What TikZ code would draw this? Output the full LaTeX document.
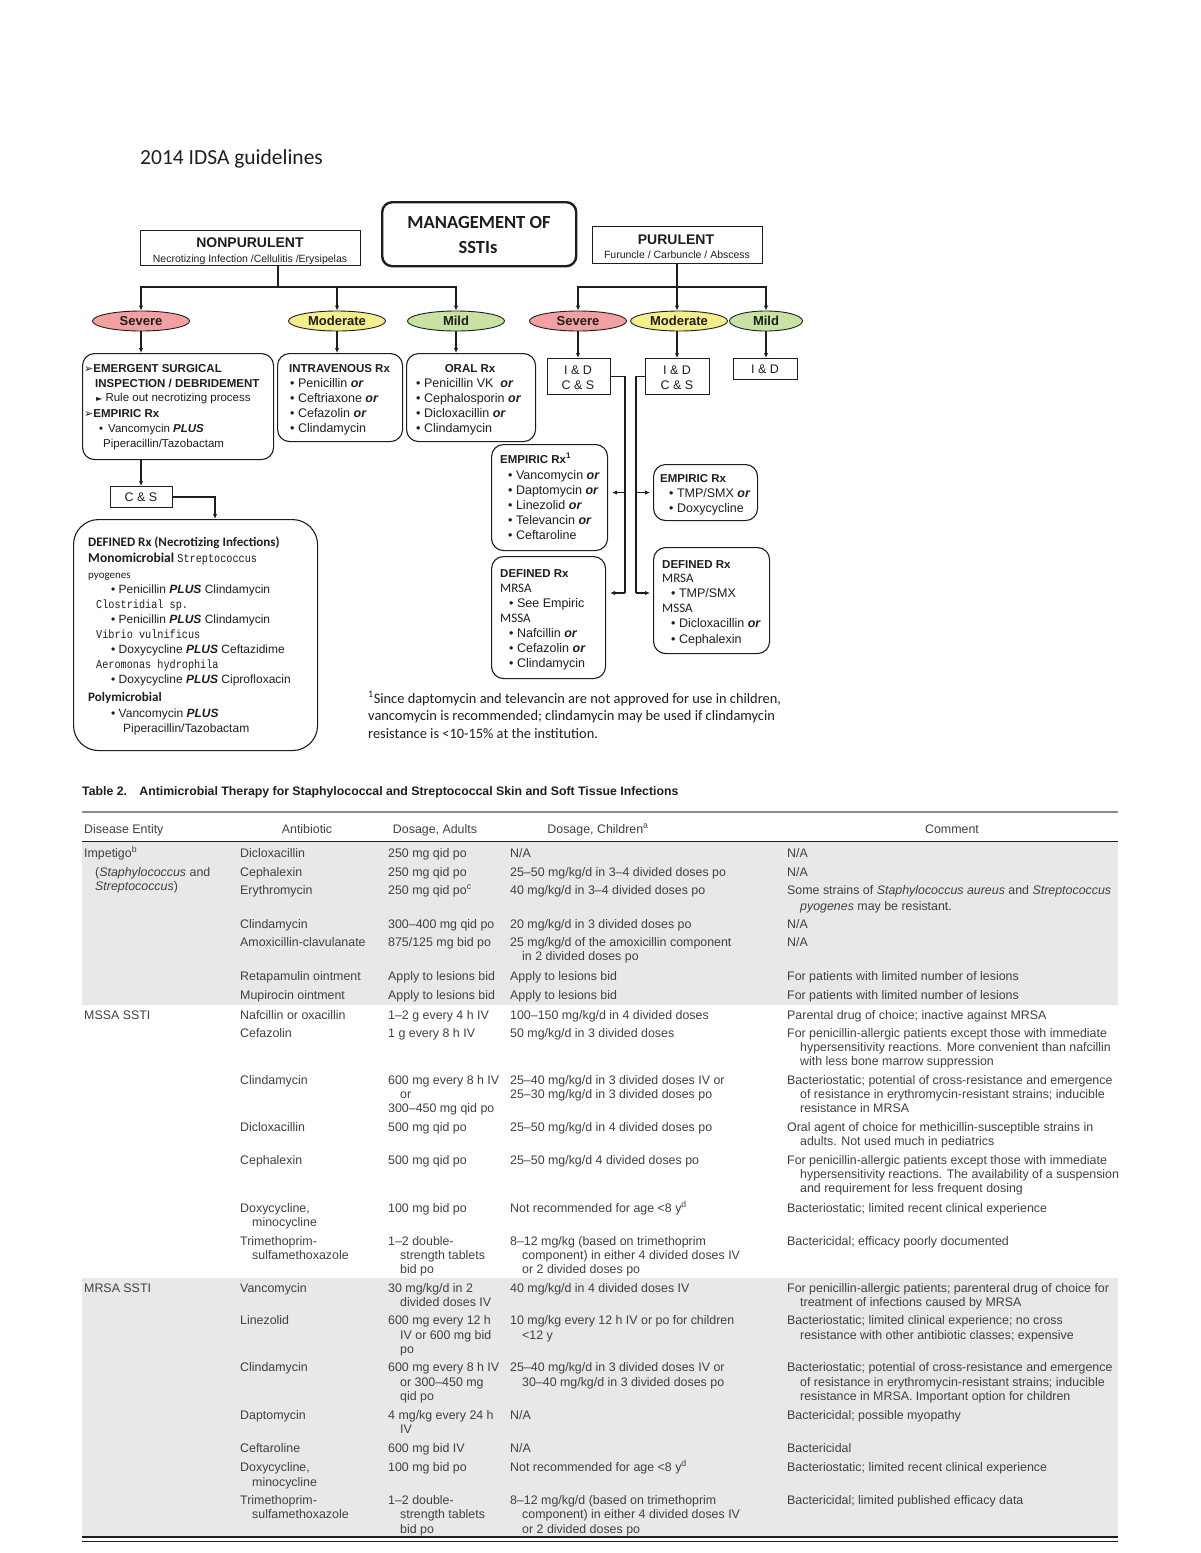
\documentclass[tikz,border=0pt]{standalone}
\usepackage{fontspec}
\setmainfont{Liberation Sans}
\newfontfamily\calfont{Carlito}
\newfontfamily\narrowmono[FakeStretch=0.85]{Liberation Mono}
\newfontfamily\dejavu{DejaVu Sans}
\usetikzlibrary{shapes.geometric,arrows.meta}
\definecolor{sevcol}{HTML}{F2A0A0}
\definecolor{modcol}{HTML}{F4EE8C}
\definecolor{mildcol}{HTML}{C8E2A4}
\definecolor{tabtxt}{HTML}{404040}
\definecolor{rowgray}{HTML}{E8E8E8}
\definecolor{rulecol}{HTML}{8C8C8C}
\definecolor{ink}{HTML}{1E1E1E}
\newcounter{tnode}
\newcommand\fsz[1]{\fontsize{#1}{#1}\selectfont}
\newcommand\Tx[3][]{\stepcounter{tnode}\node[txt,#1] (n\arabic{tnode}) at (#2) {#3};}
\newcommand\TL[2]{\Tx[tab]{#1}{#2}}
\newcommand\bior{{\bfseries\itshape or}}
\newcommand\PLUS{{\bfseries\itshape PLUS}}
\newcommand\arrowhd{{\dejavu\mdseries\fsz{11}➢}}
\tikzset{
  txt/.style={inner sep=0pt, anchor=base west, text=ink},
  fc/.style={font=\fsz{11.5}},
  fb/.style={font=\fsz{12}},
  fi/.style={font=\fsz{12.5}},
  fh/.style={font=\bfseries\fsz{11.5}},
  tab/.style={font=\fsz{12.4}, text=tabtxt},
  sbox/.style={draw=ink, line width=0.9pt, anchor=north west, inner sep=0pt},
  rbox/.style={draw=ink, line width=1.1pt, rounded corners=12pt, anchor=north west, inner sep=0pt},
  ell/.style={ellipse, draw=ink, line width=0.9pt, minimum width=97pt, minimum height=20pt, inner sep=0pt, font=\bfseries\fsz{13}, text=ink},
  ln/.style={draw=ink, line width=1.3pt},
  arr/.style={draw=ink, line width=1.3pt, -{Latex[length=5pt,width=4.5pt]}},
}
\begin{document}
\begin{tikzpicture}[x=1pt,y=-1pt]
\useasboundingbox (0,0) rectangle (1200,1553);
\fill[white] (0,0) rectangle (1200,1553);

\Tx[font=\calfont\fsz{21.5}]{140,164}{2014 IDSA guidelines}

% ---------- top boxes
\node[sbox, minimum width=220pt, minimum height=35pt] (np) at (140,230) {};
\Tx[anchor=base, font=\bfseries\fsz{14}]{250,247}{NONPURULENT}
\Tx[anchor=base, font=\fsz{10.5}]{250,262}{Necrotizing Infection /Cellulitis /Erysipelas}

\node[draw=ink, line width=2.4pt, rounded corners=10pt, anchor=north west, minimum width=194pt, minimum height=64pt] (mg) at (381,201) {};
\Tx[anchor=base, font=\calfont\bfseries\fsz{18.5}]{479,228}{MANAGEMENT OF}
\Tx[anchor=base, font=\calfont\bfseries\fsz{18.5}]{478,253}{SSTIs}

\node[sbox, minimum width=170pt, minimum height=37pt] (pu) at (592,226) {};
\Tx[anchor=base, font=\bfseries\fsz{14}]{676,244}{PURULENT}
\Tx[anchor=base, font=\fsz{10.5}]{677,258}{Furuncle / Carbuncle / Abscess}

% ---------- severity ellipses
\node[ell, fill=sevcol] (s1) at (141,321) {Severe};
\node[ell, fill=modcol] (m1) at (337,321) {Moderate};
\node[ell, fill=mildcol] (l1) at (456,321) {Mild};
\node[ell, fill=sevcol] (s2) at (578,321) {Severe};
\node[ell, fill=modcol] (m2) at (679,321) {Moderate};
\node[ell, fill=mildcol, minimum width=73pt] (l2) at (766,321) {Mild};

\coordinate (npj) at (278,287);
\draw[ln] (np.south -| npj) -- (npj);
\draw[arr] (npj) -| (s1.north);
\draw[arr] (npj) -| (l1.north);
\draw[arr] (m1.north |- npj) -- (m1.north);
\coordinate (puj) at (677,287);
\draw[ln] (pu.south -| puj) -- (puj);
\draw[arr] (puj) -| (s2.north);
\draw[arr] (puj) -| (l2.north);
\draw[arr] (puj) -- (puj |- m2.north);

% ---------- nonpurulent boxes
\node[rbox, minimum width=191pt, minimum height=106pt] (b1) at (82,353) {};
\node[rbox, minimum width=125pt, minimum height=88pt] (b2) at (277,353) {};
\node[rbox, minimum width=129pt, minimum height=88pt] (b3) at (406,353) {};
\draw[arr] (s1.south) -- (s1.south |- b1.north);
\draw[arr] (m1.south) -- (m1.south |- b2.north);
\draw[arr] (l1.south) -- (l1.south |- b3.north);

\Tx[fh]{84,372}{\arrowhd EMERGENT SURGICAL}
\Tx[fh]{95,387}{INSPECTION / DEBRIDEMENT}
\Tx[fc]{96,401}{{\dejavu\fsz{8}►} Rule out necrotizing process}
\Tx[fh]{84,417}{\arrowhd EMPIRIC Rx}
\Tx[fc]{99,432}{•\hspace{5pt}Vancomycin \PLUS}
\Tx[fc]{103,447}{Piperacillin/Tazobactam}

\Tx[fh]{289,372}{INTRAVENOUS Rx}
\Tx[fi]{290,387}{• Penicillin \bior}
\Tx[fi]{290,402}{• Ceftriaxone \bior}
\Tx[fi]{290,417}{• Cefazolin \bior}
\Tx[fi]{290,432}{• Clindamycin}

\Tx[fh, anchor=base]{470,372}{ORAL Rx}
\Tx[fi]{416,387}{• Penicillin VK\ \ \bior}
\Tx[fi]{416,402}{• Cephalosporin \bior}
\Tx[fi]{416,417}{• Dicloxacillin \bior}
\Tx[fi]{416,432}{• Clindamycin}

% ---------- C&S and defined necrotizing box
\node[sbox, minimum width=62pt, minimum height=21pt] (cs) at (110,486) {};
\Tx[anchor=base, fi]{141,501}{C \& S}
\draw[arr] (s1 |- b1.south) -- (s1 |- cs.north);
\node[rbox, rounded corners=25pt, minimum width=244pt, minimum height=231pt] (big) at (73,519) {};
\coordinate (bigin) at (215,519);
\draw[arr] (cs.east) -| (bigin);

\Tx[font=\calfont\bfseries\fsz{13}]{88,546}{DEFINED Rx (Necrotizing Infections)}
\Tx[font=\fsz{12}]{88,562}{{\calfont\bfseries\fsz{13.5}Monomicrobial} {\narrowmono Streptococcus}}
\Tx[font=\calfont\fsz{11}]{88,578}{pyogenes}
\Tx[fb]{111,593}{• Penicillin \PLUS\ Clindamycin}
\Tx[font=\narrowmono\fsz{12}]{96,608}{Clostridial sp.}
\Tx[fb]{111,623}{• Penicillin \PLUS\ Clindamycin}
\Tx[font=\narrowmono\fsz{12}]{96,638}{Vibrio vulnificus}
\Tx[fb]{111,653}{• Doxycycline \PLUS\ Ceftazidime}
\Tx[font=\narrowmono\fsz{12}]{96,668}{Aeromonas hydrophila}
\Tx[fb]{111,683}{• Doxycycline \PLUS\ Ciprofloxacin}
\Tx[font=\calfont\bfseries\fsz{13}]{88,701}{Polymicrobial}
\Tx[fb]{111,717}{• Vancomycin \PLUS}
\Tx[fb]{123,732}{Piperacillin/Tazobactam}

% ---------- purulent boxes
\node[sbox, minimum width=63pt, minimum height=36pt] (id1) at (547,358) {};
\node[sbox, minimum width=64pt, minimum height=36pt] (id2) at (645,358) {};
\node[sbox, minimum width=64pt, minimum height=21pt] (id3) at (733,358) {};
\Tx[anchor=base, fi]{578,374}{I \& D}
\Tx[anchor=base, fi]{578,389}{C \& S}
\Tx[anchor=base, fi]{677,374}{I \& D}
\Tx[anchor=base, fi]{677,389}{C \& S}
\Tx[anchor=base, fi]{765,373}{I \& D}
\draw[arr] (s2.south) -- (s2.south |- id1.north);
\draw[arr] (puj |- m2.south) -- (puj |- id2.north);
\draw[arr] (l2.south) -- (l2.south |- id3.north);

\node[rbox, minimum width=116pt, minimum height=106pt] (emp1) at (491,444) {};
\node[rbox, minimum width=114pt, minimum height=122pt] (def1) at (491,556) {};
\node[rbox, minimum width=104pt, minimum height=56pt] (emp2) at (653,464) {};
\node[rbox, minimum width=116pt, minimum height=106pt] (def2) at (653,547) {};

\coordinate (vl) at (625,593);
\coordinate (vr) at (636,593);
\draw[ln] (id1.east) -| (vl);
\draw[arr, shorten >=4pt] (vl |- emp2.west) -- (emp1.east |- emp2.west);
\draw[arr, shorten >=4pt] (vl) -- (vl -| def1.east);
\draw[ln] (id2.west) -| (vr);
\draw[arr, shorten >=3pt] (vr |- emp2.west) -- (emp2.west);
\draw[arr, shorten >=3pt] (vr) -- (vr -| def2.west);

\Tx[fh]{500,463}{EMPIRIC Rx\textsuperscript{1}}
\Tx[fi]{508,479}{• Vancomycin \bior}
\Tx[fi]{508,494}{• Daptomycin \bior}
\Tx[fi]{508,509}{• Linezolid \bior}
\Tx[fi]{508,524}{• Televancin \bior}
\Tx[fi]{508,539}{• Ceftaroline}

\Tx[fh]{500,577}{DEFINED Rx}
\Tx[font=\calfont\fsz{13}]{500,592}{MRSA}
\Tx[fi]{509,607}{• See Empiric}
\Tx[font=\calfont\fsz{13}]{500,622}{MSSA}
\Tx[fi]{509,637}{• Nafcillin \bior}
\Tx[fi]{509,652}{• Cefazolin \bior}
\Tx[fi]{509,667}{• Clindamycin}

\Tx[fh]{660,482}{EMPIRIC Rx}
\Tx[fi]{669,497}{• TMP/SMX \bior}
\Tx[fi]{669,512}{• Doxycycline}

\Tx[fh]{662,568}{DEFINED Rx}
\Tx[font=\calfont\fsz{13}]{662,582}{MRSA}
\Tx[fi]{671,597}{• TMP/SMX}
\Tx[font=\calfont\fsz{13}]{662,612}{MSSA}
\Tx[fi]{671,627}{• Dicloxacillin \bior}
\Tx[fi]{671,643}{• Cephalexin}

\Tx[font=\calfont\fsz{14.4}]{368,703}{\textsuperscript{1}Since daptomycin and televancin are not approved for use in children,}
\Tx[font=\calfont\fsz{14.4}]{368,720}{vancomycin is recommended; clindamycin may be used if clindamycin}
\Tx[font=\calfont\fsz{14.4}]{368,738}{resistance is <10-15\% at the institution.}

% ---------- table
\Tx[font=\bfseries\fsz{12.3}]{82,795}{Table 2.\quad Antimicrobial Therapy for Staphylococcal and Streptococcal Skin and Soft Tissue Infections}
\fill[rowgray] (82,842) rectangle (1118,1005);
\fill[rowgray] (82,1278) rectangle (1118,1536);
\draw[rulecol, line width=2.6pt] (82,812) -- (1118,812);
\draw[ink, line width=0.9pt] (82,841) -- (1118,841);
\draw[ink, line width=1.8pt] (82,1537) -- (1118,1537);
\draw[ink, line width=0.5pt] (82,1541) -- (1118,1541);

\TL{84,833}{Disease Entity}
\Tx[tab, anchor=base]{307,833}{Antibiotic}
\Tx[tab, anchor=base]{435,833}{Dosage, Adults}
\Tx[tab, anchor=base]{598,833}{Dosage, Children\textsuperscript{a}}
\Tx[tab, anchor=base]{952,833}{Comment}

% Impetigo
\TL{84,857}{Impetigo\textsuperscript{b}}
\TL{95,876}{(\textit{Staphylococcus} and}
\TL{95,890}{\textit{Streptococcus})}
\TL{240,857}{Dicloxacillin}\TL{388,857}{250 mg qid po}\TL{510,857}{N/A}\TL{787,857}{N/A}
\TL{240,876}{Cephalexin}\TL{388,876}{250 mg qid po}\TL{510,876}{25–50 mg/kg/d in 3–4 divided doses po}\TL{787,876}{N/A}
\TL{240,894}{Erythromycin}\TL{388,894}{250 mg qid po\textsuperscript{c}}\TL{510,894}{40 mg/kg/d in 3–4 divided doses po}
\TL{787,894}{Some strains of \textit{Staphylococcus aureus} and \textit{Streptococcus}}
\TL{800,910}{\textit{pyogenes} may be resistant.}
\TL{240,928}{Clindamycin}\TL{388,928}{300–400 mg qid po}\TL{510,928}{20 mg/kg/d in 3 divided doses po}\TL{787,928}{N/A}
\TL{240,946}{Amoxicillin-clavulanate}\TL{388,946}{875/125 mg bid po}\TL{510,946}{25 mg/kg/d of the amoxicillin component}\TL{787,946}{N/A}
\TL{522,960}{in 2 divided doses po}
\TL{240,980}{Retapamulin ointment}\TL{388,980}{Apply to lesions bid}\TL{510,980}{Apply to lesions bid}\TL{787,980}{For patients with limited number of lesions}
\TL{240,999}{Mupirocin ointment}\TL{388,999}{Apply to lesions bid}\TL{510,999}{Apply to lesions bid}\TL{787,999}{For patients with limited number of lesions}

% MSSA
\TL{84,1019}{MSSA SSTI}
\TL{240,1019}{Nafcillin or oxacillin}\TL{388,1019}{1–2 g every 4 h IV}\TL{510,1019}{100–150 mg/kg/d in 4 divided doses}\TL{787,1019}{Parental drug of choice; inactive against MRSA}
\TL{240,1037}{Cefazolin}\TL{388,1037}{1 g every 8 h IV}\TL{510,1037}{50 mg/kg/d in 3 divided doses}\TL{787,1037}{For penicillin-allergic patients except those with immediate}
\TL{800,1051}{hypersensitivity reactions. More convenient than nafcillin}
\TL{800,1065}{with less bone marrow suppression}
\TL{240,1084}{Clindamycin}\TL{388,1084}{600 mg every 8 h IV}\TL{510,1084}{25–40 mg/kg/d in 3 divided doses IV or}\TL{787,1084}{Bacteriostatic; potential of cross-resistance and emergence}
\TL{400,1098}{or}\TL{510,1098}{25–30 mg/kg/d in 3 divided doses po}\TL{800,1098}{of resistance in erythromycin-resistant strains; inducible}
\TL{388,1112}{300–450 mg qid po}\TL{800,1112}{resistance in MRSA}
\TL{240,1131}{Dicloxacillin}\TL{388,1131}{500 mg qid po}\TL{510,1131}{25–50 mg/kg/d in 4 divided doses po}\TL{787,1131}{Oral agent of choice for methicillin-susceptible strains in}
\TL{800,1145}{adults. Not used much in pediatrics}
\TL{240,1164}{Cephalexin}\TL{388,1164}{500 mg qid po}\TL{510,1164}{25–50 mg/kg/d 4 divided doses po}\TL{787,1164}{For penicillin-allergic patients except those with immediate}
\TL{800,1178}{hypersensitivity reactions. The availability of a suspension}
\TL{800,1192}{and requirement for less frequent dosing}
\TL{240,1212}{Doxycycline,}\TL{388,1212}{100 mg bid po}\TL{510,1212}{Not recommended for age <8 y\textsuperscript{d}}\TL{787,1212}{Bacteriostatic; limited recent clinical experience}
\TL{252,1226}{minocycline}
\TL{240,1245}{Trimethoprim-}\TL{388,1245}{1–2 double-}\TL{510,1245}{8–12 mg/kg (based on trimethoprim}\TL{787,1245}{Bactericidal; efficacy poorly documented}
\TL{252,1259}{sulfamethoxazole}\TL{400,1259}{strength tablets}\TL{522,1259}{component) in either 4 divided doses IV}
\TL{400,1273}{bid po}\TL{522,1273}{or 2 divided doses po}

% MRSA
\TL{84,1292}{MRSA SSTI}
\TL{240,1292}{Vancomycin}\TL{388,1292}{30 mg/kg/d in 2}\TL{510,1292}{40 mg/kg/d in 4 divided doses IV}\TL{787,1292}{For penicillin-allergic patients; parenteral drug of choice for}
\TL{400,1306}{divided doses IV}\TL{800,1306}{treatment of infections caused by MRSA}
\TL{240,1324}{Linezolid}\TL{388,1324}{600 mg every 12 h}\TL{510,1324}{10 mg/kg every 12 h IV or po for children}\TL{787,1324}{Bacteriostatic; limited clinical experience; no cross}
\TL{400,1339}{IV or 600 mg bid}\TL{522,1339}{<12 y}\TL{800,1339}{resistance with other antibiotic classes; expensive}
\TL{400,1353}{po}
\TL{240,1371}{Clindamycin}\TL{388,1371}{600 mg every 8 h IV}\TL{510,1371}{25–40 mg/kg/d in 3 divided doses IV or}\TL{787,1371}{Bacteriostatic; potential of cross-resistance and emergence}
\TL{400,1386}{or 300–450 mg}\TL{522,1386}{30–40 mg/kg/d in 3 divided doses po}\TL{800,1386}{of resistance in erythromycin-resistant strains; inducible}
\TL{400,1400}{qid po}\TL{800,1400}{resistance in MRSA. Important option for children}
\TL{240,1419}{Daptomycin}\TL{388,1419}{4 mg/kg every 24 h}\TL{510,1419}{N/A}\TL{787,1419}{Bactericidal; possible myopathy}
\TL{400,1433}{IV}
\TL{240,1452}{Ceftaroline}\TL{388,1452}{600 mg bid IV}\TL{510,1452}{N/A}\TL{787,1452}{Bactericidal}
\TL{240,1471}{Doxycycline,}\TL{388,1471}{100 mg bid po}\TL{510,1471}{Not recommended for age <8 y\textsuperscript{d}}\TL{787,1471}{Bacteriostatic; limited recent clinical experience}
\TL{252,1486}{minocycline}
\TL{240,1504}{Trimethoprim-}\TL{388,1504}{1–2 double-}\TL{510,1504}{8–12 mg/kg/d (based on trimethoprim}\TL{787,1504}{Bactericidal; limited published efficacy data}
\TL{252,1518}{sulfamethoxazole}\TL{400,1518}{strength tablets}\TL{522,1518}{component) in either 4 divided doses IV}
\TL{400,1533}{bid po}\TL{522,1533}{or 2 divided doses po}
\end{tikzpicture}
\end{document}
